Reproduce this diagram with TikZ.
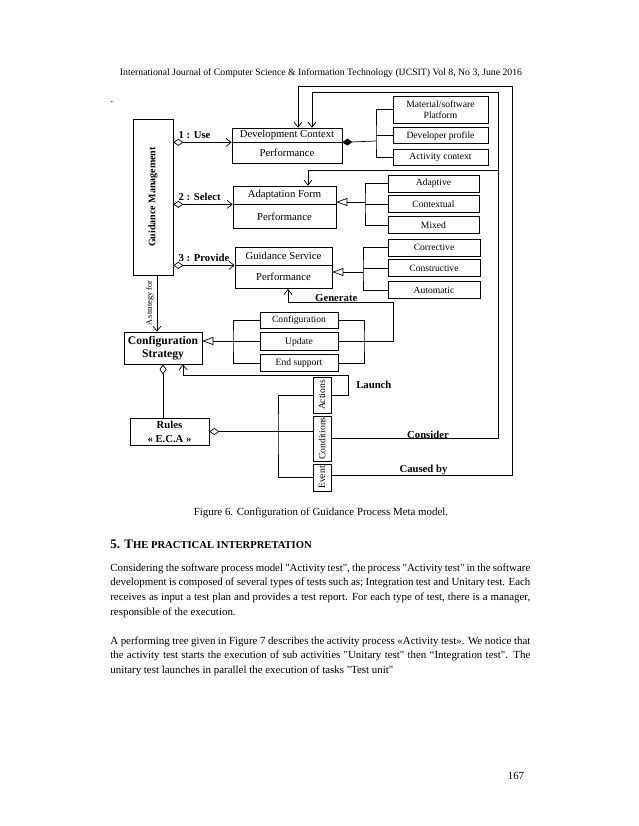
\documentclass[tikz,border=0pt]{standalone}
\usepackage{fontspec}
\setmainfont{Liberation Serif}[Ligatures=TeXOff]
\usepackage{graphicx}
\usetikzlibrary{positioning,calc,arrows.meta}
\tikzset{
    block/.style = {draw, rectangle, inner sep=0pt, align=center,
        font=\fontsize{10.7}{12}\selectfont},
    item/.style = {draw, rectangle, inner sep=0pt, align=center,
        minimum height=17pt, font=\fontsize{9.6}{11}\selectfont},
    lbl/.style = {font=\bfseries\fontsize{10.7}{12}\selectfont, inner sep=1pt},
    arrow/.style = {draw, -{Straight Barb[length=5pt,width=8pt]}},
    agg/.style = {{Diamond[open,length=10pt,width=7pt]}-{Straight Barb[length=5pt,width=8pt]}},
    gen/.style = {{Triangle[open,length=11pt,width=8pt]}-},
    txt/.style = {inner sep=0pt, font=\fontsize{10.9}{14.7}\selectfont}
}

\begin{document}
\begin{tikzpicture}[x=1pt,y=-1pt,line width=0.7pt]
    \fill[white] (0,0) rectangle (638,826);
    \useasboundingbox (0,0) rectangle (638,826);
    \node[txt, font=\fontsize{9.75}{12}\selectfont] (head) at (321,73) {International Journal of Computer Science \& Information Technology (IJCSIT) Vol 8, No 3, June 2016};
    \node[txt] (dot) at (112,102) {.};
    % left side
    \node[block, minimum width=40pt, minimum height=156pt] (gm) at (153,197) {\rotatebox{90}{\bfseries\fontsize{10}{12}\selectfont Guidance Management}};
    \node[block, minimum width=78pt, minimum height=32pt, font=\bfseries\fontsize{11.6}{13}\selectfont] (cs) at (163,348) {Configuration\\Strategy};
    \node[block, minimum width=79pt, minimum height=27pt, font=\bfseries\fontsize{10.7}{14}\selectfont] (rules) at (169.5,431.5) {Rules\\« E.C.A »};
    % classes
    \node[block, minimum width=110pt, minimum height=14pt] (dch) at (287,135) {Development Context};
    \node[block, minimum width=110pt, minimum height=21pt, below=0pt of dch] (dcb) {Performance};
    \node[block, minimum width=103pt, minimum height=18pt] (afh) at (284.5,195) {Adaptation Form};
    \node[block, minimum width=103pt, minimum height=24pt, below=0pt of afh] (afb) {Performance};
    \node[block, minimum width=97pt, minimum height=18pt] (gsh) at (283.5,256) {Guidance Service};
    \node[block, minimum width=97pt, minimum height=23pt, below=0pt of gsh] (gsb) {Performance};
    % sub classes
    \node[item, minimum width=95pt, minimum height=27pt] (mat) at (440.5,109.5) {Material/software\\Platform};
    \node[item, minimum width=95pt, minimum height=16pt, below=4pt of mat] (devp) {Developer profile};
    \node[item, minimum width=95pt, minimum height=16pt, below=5pt of devp] (actx) {Activity context};
    \node[item, minimum width=91pt] (adap) at (433.5,183.5) {Adaptive};
    \node[item, minimum width=91pt, below=3pt of adap] (ctx) {Contextual};
    \node[item, minimum width=91pt, below=3pt of ctx] (mix) {Mixed};
    \node[item, minimum width=92pt] (corr) at (434,247.5) {Corrective};
    \node[item, minimum width=92pt, below=3pt of corr] (cons) {Constructive};
    \node[item, minimum width=92pt, below=4pt of cons] (auto) {Automatic};
    \node[item, minimum width=78pt, minimum height=16pt] (cfg) at (299,320.5) {Configuration};
    \node[item, minimum width=78pt, minimum height=18pt, below=3.5pt of cfg] (upd) {Update};
    \node[item, minimum width=78pt, below=3pt of upd] (ends) {End support};
    % E.C.A
    \node[item, minimum width=18pt, minimum height=36pt] (acts) at (322,395) {\rotatebox{90}{Actions}};
    \node[item, minimum width=18pt, minimum height=45pt] (cond) at (322,438.5) {\rotatebox{90}{Conditions}};
    \node[item, minimum width=18pt, minimum height=27pt] (evt) at (322,477.5) {\rotatebox{90}{Event}};
    % bus points
    \coordinate (dcbus) at (376,141);
    \coordinate (afbus) at (365,202);
    \coordinate (gsbus) at (363,272);
    \coordinate (cfbus) at (233,341);
    \coordinate (cfrbus) at (364,340);
    \coordinate (genp) at (393,302);
    \coordinate (ecabus) at (278,432);
    \coordinate (lnch) at (348,375);
    \coordinate (consp) at (498,92);
    \coordinate (consaf) at (498,170);
    \coordinate (caus) at (512,86);
    % associations
    \draw[agg] (gm.east |- dch.south west) -- node[lbl, pos=0, above right, xshift=4pt, yshift=2.5pt] {1 : Use} (dch.south west);
    \draw[agg] (gm.east |- afh.south west) -- node[lbl, pos=0, above right, xshift=4pt, yshift=2.5pt] {2 : Select} (afh.south west);
    \draw[agg] (gm.east |- gsh.south west) -- node[lbl, pos=0, above right, xshift=4pt, yshift=2.5pt] {3 : Provide} (gsh.south west);
    \draw[arrow] ([xshift=4pt]gm.south) -- node[midway, rotate=90, above, inner sep=3pt, font=\fontsize{8.1}{9}\selectfont] {A strategy for} ([xshift=4pt]gm.south |- cs.north);
    % composition and generalisations
    \draw[{Diamond[length=10pt,width=7pt]}-] (dch.south east) -- (dcbus);
    \draw (mat.west) -| (dcbus) |- (actx.west);
    \draw (devp.west) -- (devp.west -| dcbus);
    \draw[gen] (afbus -| afb.east) -- (afbus);
    \draw (adap.west) -| (afbus) |- (mix.west);
    \draw (ctx.west) -- (ctx.west -| afbus);
    \draw[gen] (gsbus -| gsb.east) -- (gsbus);
    \draw (corr.west) -| (gsbus) |- (auto.west);
    \draw (cons.west) -- (cons.west -| gsbus);
    \draw[gen] (cs.east |- cfbus) -- (cfbus -| upd.west);
    \draw (cfg.west) -| (cfbus) |- (ends.west);
    \draw (cfg.east) -| (cfrbus) |- (ends.east);
    \draw[arrow] (upd.east) -| (genp) -| node[lbl, pos=0.27, above, inner sep=0pt] {Generate} ([xshift=4.5pt]gsb.south);
    % rules
    \draw[{Diamond[open,length=10pt,width=7pt]}-] (cs.south) -- (cs.south |- rules.north);
    \draw[{Diamond[open,length=10pt,width=7pt]}-] (rules.east) -- (rules.east -| cond.west);
    \draw (acts.west) -| (ecabus) |- (evt.west);
    \draw[arrow] (acts.east) -| node[lbl, pos=0.75, right=7pt] {Launch} (lnch) -| ([xshift=20pt]cs.south);
    \draw[arrow] (cond.east) -| node[lbl, pos=0.29, above, inner sep=0pt] {Consider} (consp) -| ([xshift=25pt]dch.north);
    \draw[arrow] (consaf) -| ([xshift=23.5pt]afh.north);
    \draw[arrow] ([yshift=2pt]evt.east) -| node[lbl, pos=0.255, above, inner sep=0pt] {Caused by} (caus) -| ([xshift=11pt]dch.north);
    % text of the page
    \node[txt] (cap) at (321,513) {Figure 6. Configuration of Guidance Process Meta model.};
    \node[txt, anchor=west, font=\bfseries] (sec) at (110,544) {\fontsize{13}{15}\selectfont 5. T\fontsize{10.6}{12}\selectfont HE PRACTICAL INTERPRETATION};
    \node[txt, anchor=north west, text width=420pt, align=justify] (par1) at (110,563) {\hyphenpenalty=10000 Considering the software process model "Activity test", the process "Activity test" in the software\linebreak development is composed of several types of tests such as; Integration test and Unitary test. Each\linebreak receives as input a test plan and provides a test report. For each type of test, there is a manager,\linebreak responsible of the execution.};
    \node[txt, anchor=north west, text width=420pt, align=justify] (par2) at (110,636) {\hyphenpenalty=10000 A performing tree given in Figure 7 describes the activity process «Activity test». We notice that\linebreak the activity test starts the execution of sub activities "Unitary test" then “Integration test". The\linebreak unitary test launches in parallel the execution of tasks "Test unit"};
    \node[txt] (pnum) at (516,776) {167};
\end{tikzpicture}
\end{document}
